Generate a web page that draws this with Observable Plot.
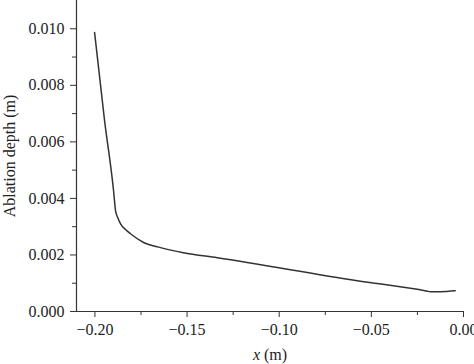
<!DOCTYPE html>
<html>
<head>
<meta charset="utf-8">
<script src="https://cdn.jsdelivr.net/npm/d3@7"></script>
<script src="https://cdn.jsdelivr.net/npm/@observablehq/plot@0.6"></script>
<style>
  body { margin: 0; background: #fff; }
  #chart svg { display: block; }
</style>
</head>
<body>
<div id="chart"></div>
<script>
// Position along the plate x (m)
const xPos = [-0.2002, -0.1948, -0.1899, -0.1888, -0.1877, -0.1861, -0.1834, -0.1807, -0.1736, -0.1644, -0.1520, -0.1336, -0.0577, -0.0197, -0.0181, -0.0126, -0.0045];
// Ablation depth (m)
const depth = [0.00987, 0.00677, 0.00428, 0.00356, 0.00333, 0.00310, 0.00290, 0.00275, 0.00244, 0.00226, 0.00208, 0.00190, 0.00109, 0.00072, 0.00070, 0.00070, 0.00073];

const xMajor = [-0.20, -0.15, -0.10, -0.05, 0.00];
const xMinor = [-0.175, -0.125, -0.075, -0.025];
const yMajor = [0.000, 0.002, 0.004, 0.006, 0.008, 0.010];
const yMinor = [0.001, 0.003, 0.005, 0.007, 0.009];

const data = xPos.map((x, i) => ({x, y: depth[i]}));
const fmtX = d => (d < 0 ? "\u2212" + (-d).toFixed(2) : d.toFixed(2));
const fmtY = d => d.toFixed(3);
const ink = "#333";

const chart = Plot.plot({
  width: 474,
  height: 364,
  marginLeft: 76,
  marginRight: 11,
  marginTop: 0,
  marginBottom: 53,
  style: {fontFamily: "'Liberation Serif', 'DejaVu Serif', serif", fontSize: "16px", color: "#222", background: "#fff"},
  x: {domain: [-0.21, 0], label: null},
  y: {domain: [0, 0.011], label: null},
  marks: [
    Plot.axisX({ticks: xMajor, tickSize: 6, tickPadding: 6, tickFormat: fmtX, stroke: ink, label: null}),
    Plot.axisX({ticks: xMinor, tickSize: 4, tickFormat: () => "", stroke: ink, label: null}),
    Plot.axisY({ticks: yMajor, tickSize: 6, tickPadding: 6, tickFormat: fmtY, stroke: ink, label: null}),
    Plot.axisY({ticks: yMinor, tickSize: 4, tickFormat: () => "", stroke: ink, label: null}),
    Plot.ruleX([-0.21], {stroke: ink, strokeWidth: 1.2}),
    Plot.ruleY([0], {stroke: ink, strokeWidth: 1.2}),
    Plot.line(data, {x: "x", y: "y", stroke: "#333", strokeWidth: 1.5, curve: "monotone-x"}),
    Plot.text(["x (m)"], {frameAnchor: "bottom", dy: 48, fontSize: 16, fill: "#222"}),
    Plot.text(["Ablation depth (m)"], {frameAnchor: "left", textAnchor: "middle", dx: -67, rotate: -90, fontSize: 16, fill: "#222"})
  ]
});

// italicize the "x" of the x-axis label
d3.select(chart).selectAll("text").each(function() {
  const t = d3.select(this);
  if (t.text() === "x (m)") {
    t.text(null);
    t.append("tspan").attr("font-style", "italic").text("x");
    t.append("tspan").text(" (m)");
  }
});

document.getElementById("chart").appendChild(chart);
</script>
</body>
</html>
